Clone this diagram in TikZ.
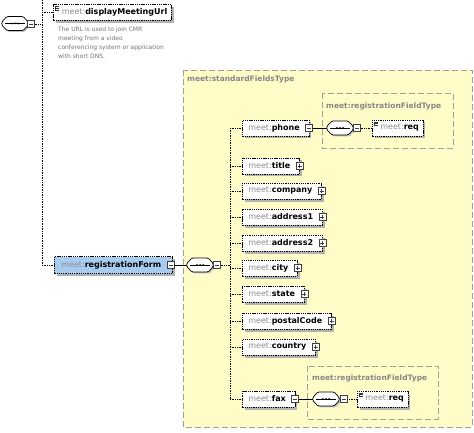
\documentclass[tikz,border=0pt]{standalone}
\usepackage{fontspec}
\setmainfont{DejaVu Sans}
\usetikzlibrary{shadows}
\definecolor{pfx}{RGB}{140,140,140}
\definecolor{lbl}{RGB}{135,135,135}
\definecolor{ylw}{RGB}{255,252,200}
\definecolor{ylwb}{RGB}{160,160,150}
\definecolor{blu}{RGB}{168,204,240}
\definecolor{desccol}{RGB}{115,115,115}
\tikzset{
  x=1pt, y=-1pt,
  elem/.style={draw=black, dash pattern=on 1.3pt off 0.9pt, line width=0.6pt, fill=white,
    anchor=west, minimum height=16pt, inner xsep=0pt, inner ysep=0pt,
    font=\fontsize{8}{9}\selectfont,
    drop shadow={shadow xshift=2.5pt, shadow yshift=-2.5pt, fill=black!30, opacity=1}},
  plainelem/.style={elem, drop shadow={shadow xshift=0pt, shadow yshift=0pt, fill=white, opacity=0}},
  btnbase/.style={draw=black!75, fill=white, line width=0.5pt, minimum size=7pt, inner sep=0pt, solid},
  btnminus/.style={btnbase, path picture={\draw[line width=0.6pt] ([xshift=-2pt]path picture bounding box.center) -- ([xshift=2pt]path picture bounding box.center);}},
  btnplus/.style={btnbase, path picture={\draw[line width=0.6pt] ([xshift=-2pt]path picture bounding box.center) -- ([xshift=2pt]path picture bounding box.center) ([yshift=-2pt]path picture bounding box.center) -- ([yshift=2pt]path picture bounding box.center);}},
  conn/.style={line width=0.7pt, dash pattern=on 0.8pt off 0.9pt},
  solidconn/.style={line width=0.6pt},
  seqbox/.style={minimum width=26pt, minimum height=13.5pt, inner sep=0pt},
  seqout/.style={draw=black, line width=0.7pt, fill=white, rounded corners=1.2pt,
    drop shadow={shadow xshift=1.5pt, shadow yshift=-1.5pt, fill=black!25, opacity=1}},
  typebox/.style={draw=ylwb, line width=0.8pt, dash pattern=on 6pt off 3pt},
  typelbl/.style={anchor=west, text=lbl, inner sep=0pt, font=\fontsize{7.5}{9}\selectfont\bfseries},
}
\newcommand\mt[1]{\textcolor{pfx}{meet:}\textbf{#1}}
\newcommand\seqat[2]{%
  \node[seqbox] (#1) at (#2) {};
  \draw[seqout] ([xshift=5pt]#1.north west) -- ([xshift=-5pt]#1.north east) -- ([yshift=1.5pt]#1.east) -- ([yshift=-1.5pt]#1.east) -- ([xshift=-5pt]#1.south east) -- ([xshift=5pt]#1.south west) -- ([yshift=-1.5pt]#1.west) -- ([yshift=1.5pt]#1.west) -- cycle;
  \draw[line width=0.7pt] ([xshift=3.5pt]#1.west) -- ([xshift=-3.5pt]#1.east);
  \foreach \dd in {-3.2,0,3.2} \fill ([xshift=\dd pt]#1.center) circle (1pt);
}
\newcommand\iconat[1]{%
  \draw[line width=0.45pt, black!80] ([shift={(2,2)}]#1.north west) -- ++(0,4.5)
    ([shift={(2,2.3)}]#1.north west) -- ++(3.5,0)
    ([shift={(2,4)}]#1.north west) -- ++(3.5,0)
    ([shift={(2,5.7)}]#1.north west) -- ++(3.5,0);
}
\begin{document}
\begin{tikzpicture}
\useasboundingbox (0,0) rectangle (474,433);
% big yellow type box
\fill[ylw] (183,70) rectangle (472,427);
\draw[typebox] (183,70) rectangle (472,427);
\node[typelbl] (sft) at (187,79.5) {meet:standardFieldsType};
% registrationFieldType boxes
\draw[typebox] (322,93) rectangle (453,148);
\node[typelbl] (rft1) at (326,106) {meet:registrationFieldType};
\draw[typebox] (307,366) rectangle (438,419);
\node[typelbl] (rft2) at (312,378) {meet:registrationFieldType};

% top-left sequence
\seqat{seqA}{15,23.5}
\node[btnminus] (btnA) at (31,24) {};
\coordinate (vA0) at (42,0);
\coordinate (vA1) at (42,265);
\draw[conn] (vA0) -- (vA1);
\draw[conn] (btnA.east) -- (btnA.east -| vA0);

% displayMeetingUrl
\node[elem] (dmu) at (53,12.5) {\hspace*{8.5pt}\mt{displayMeetingUrl}\hspace*{4pt}};
\iconat{dmu}
\draw[conn] (dmu.west -| vA0) -- (dmu.west);
\node[anchor=north west, inner sep=0pt, align=left, text=desccol, font=\fontsize{6}{9}\selectfont] (desc) at (58,26.5)
  {The URL is used to join CMR\\meeting from a video\\conferencing system or application\\with short DNS.};

% registrationForm
\node[elem, fill=blu, minimum height=17pt] (rf) at (54,265) {\hspace*{7pt}\mt{registrationForm}\hspace*{11pt}};
\draw[conn] (vA1) -- (rf.west);
\node[btnminus] (btnR) at ([xshift=-2pt]rf.east) {};
\seqat{seqR}{200,265}
\draw[solidconn] (btnR.east) -- (seqR.west);
\node[btnminus] (btnR2) at (217,265) {};
\coordinate (vB0) at (230,128);
\coordinate (vB1) at (230,399);
\draw[conn] (btnR2.east) -- (btnR2.east -| vB0);
\draw[conn] (vB0) -- (vB1);

% children
\node[elem] (phone) at (242,128) {\hspace*{6pt}\mt{phone}\hspace*{9pt}};
\node[elem] (title) at (242,166) {\hspace*{6pt}\mt{title}\hspace*{9pt}};
\node[elem] (company) at (242,191) {\hspace*{6pt}\mt{company}\hspace*{9pt}};
\node[elem] (addr1) at (242,217) {\hspace*{6pt}\mt{address1}\hspace*{9pt}};
\node[elem] (addr2) at (242,243) {\hspace*{6pt}\mt{address2}\hspace*{9pt}};
\node[elem] (city) at (242,268) {\hspace*{6pt}\mt{city}\hspace*{9pt}};
\node[elem] (state) at (242,294) {\hspace*{6pt}\mt{state}\hspace*{9pt}};
\node[elem] (postal) at (242,321) {\hspace*{6pt}\mt{postalCode}\hspace*{9pt}};
\node[elem] (country) at (242,347) {\hspace*{6pt}\mt{country}\hspace*{9pt}};
\node[elem] (fax) at (242,399) {\hspace*{6pt}\mt{fax}\hspace*{9pt}};
\foreach \n in {phone,title,company,addr1,addr2,city,state,postal,country,fax}
  \draw[conn] (\n.west -| vB0) -- (\n.west);
\node[btnminus] (bphone) at (phone.east) {};
\foreach \n in {title,company,addr1,addr2,city,state,postal,country}
  \node[btnplus] (b\n) at (\n.east) {};
\node[btnminus] (bfax) at (fax.east) {};

% phone -> req
\seqat{seqP}{340,128}
\draw[solidconn] (bphone.east) -- (seqP.west);
\node[btnminus] (bseqP) at (357,128) {};
\node[plainelem] (reqP) at (372,128) {\hspace*{8pt}\mt{req}\hspace*{4pt}};
\iconat{reqP}
\draw[conn] (bseqP.east) -- (reqP.west);

% fax -> req
\seqat{seqF}{326,399}
\draw[solidconn] (bfax.east) -- (seqF.west);
\node[btnminus] (bseqF) at (343.5,399) {};
\node[plainelem] (reqF) at (357,399) {\hspace*{8pt}\mt{req}\hspace*{4pt}};
\iconat{reqF}
\draw[conn] (bseqF.east) -- (reqF.west);
\end{tikzpicture}
\end{document}
